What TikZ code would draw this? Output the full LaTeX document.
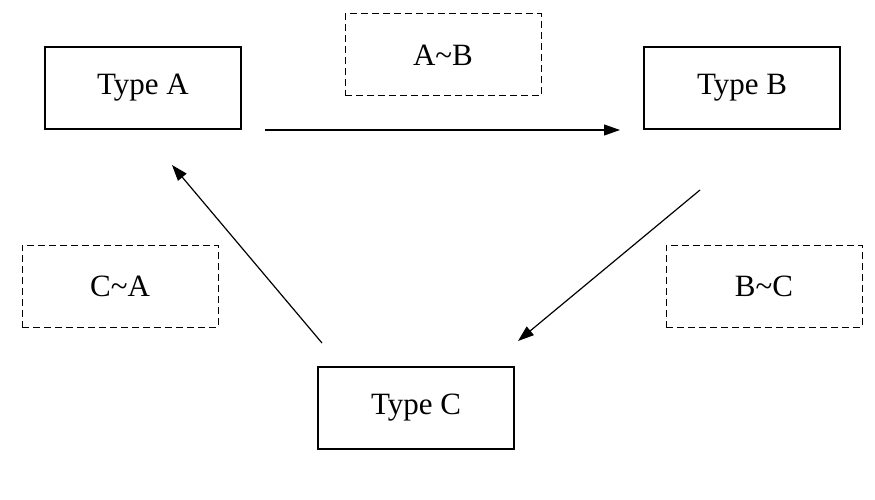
\documentclass[tikz,border=0pt]{standalone}
\usepackage{fontspec}
\setmainfont{Liberation Serif}
\usetikzlibrary{arrows.meta}
\begin{document}
\begin{tikzpicture}[x=1pt,y=-1pt,
  box/.style={draw,line width=1.2pt,minimum width=196pt,minimum height=82pt,font=\fontsize{31}{34}\selectfont},
  dbox/.style={draw,dash pattern=on 7pt off 4pt,line width=1pt,minimum width=196pt,minimum height=82pt,font=\fontsize{31}{34}\selectfont},
  arr/.style={-{Triangle[length=16pt,width=11pt]},line width=1.2pt}]
\useasboundingbox (0,0) rectangle (875,500);
\node[box] (A) at (143,88) {Type A};
\node[box] (B) at (742,88) {Type B};
\node[box] (C) at (416,408) {Type C};
\node[dbox] (AB) at (443,55) {A\char`~B};
\node[dbox] (CA) at (120,286) {C\char`~A};
\node[dbox] (BC) at (764,286) {B\char`~C};
\coordinate (a1) at (265,130); \coordinate (a2) at (620,130);
\coordinate (b1) at (700,190); \coordinate (b2) at (518,341);
\coordinate (c1) at (322,343); \coordinate (c2) at (172,165);
\draw[arr] (a1) -- (a2);
\draw[arr] (b1) -- (b2);
\draw[arr] (c1) -- (c2);
\end{tikzpicture}
\end{document}
